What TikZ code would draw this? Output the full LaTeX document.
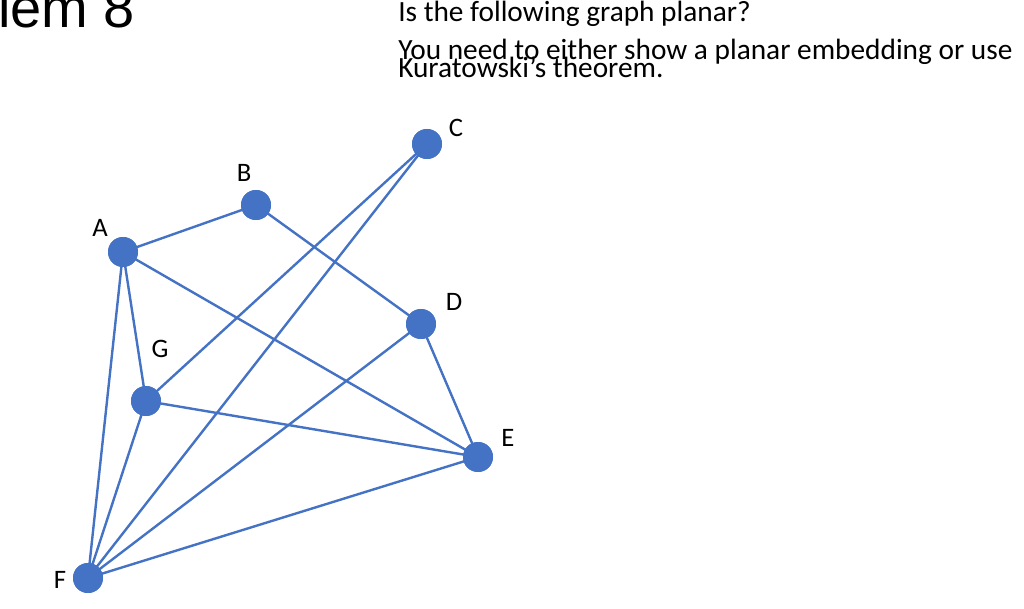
\documentclass[tikz,border=0pt]{standalone}
\usepackage{fontspec}
\setmainfont{Carlito}
\newfontfamily\arialf{Liberation Sans}
\begin{document}
\begin{tikzpicture}[x=0.75pt,y=-0.75pt,
  vtxc/.style={circle,fill={rgb,255:red,68;green,114;blue,196},minimum size=22.5pt,inner sep=0pt},
  lab/.style={font=\fontsize{20}{24}\selectfont},
  txt/.style={anchor=base west,inner sep=0pt,font=\fontsize{22}{26}\selectfont},
  edge/.style={draw={rgb,255:red,68;green,114;blue,196},line width=1.8pt}]
\useasboundingbox (0,0) rectangle (1024,609);
\clip (0,0) rectangle (1024,609);
\node[anchor=base west,inner sep=0pt,font=\arialf\fontsize{42}{48}\selectfont] (title) at (-2,28) {lem 8};
\node[txt] (q1) at (398,22) {Is the following graph planar?};
\node[txt] (q2) at (398,60) {You need to either show a planar embedding or use};
\node[txt] (q3) at (398,78) {Kuratowski’s theorem.};
\node[vtxc] (A) at (123,252) {};
\node[vtxc] (B) at (256,205) {};
\node[vtxc] (C) at (427,144) {};
\node[vtxc] (D) at (421,324) {};
\node[vtxc] (E) at (478,457) {};
\node[vtxc] (F) at (88,578) {};
\node[vtxc] (G) at (146,401) {};
\foreach \u/\v in {A/B,B/D,A/E,A/G,A/F,C/G,C/F,D/F,D/E,G/E,G/F,F/E}
  \draw[edge] (\u.center) -- (\v.center);
\foreach \u in {A,B,C,D,E,F,G} \node[vtxc] at (\u) {};
\node[lab] (lC) at (456,128) {C};
\node[lab] (lB) at (244,173) {B};
\node[lab] (lA) at (100,228) {A};
\node[lab] (lD) at (454,302) {D};
\node[lab] (lG) at (160,349) {G};
\node[lab] (lE) at (508,438) {E};
\node[lab] (lF) at (60,580) {F};
\end{tikzpicture}
\end{document}
